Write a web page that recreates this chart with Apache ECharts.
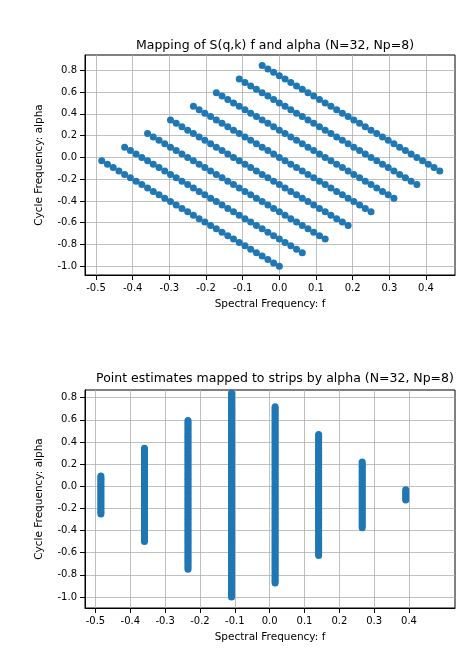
<!DOCTYPE html>
<html><head><meta charset="utf-8">
<script src="https://cdn.jsdelivr.net/npm/echarts@6/dist/echarts.min.js"></script>
<style>html,body{margin:0;padding:0;background:#fff}#c{width:474px;height:656px}</style>
</head><body><div id="c"></div>
<script>
const N = 32, Np = 8;
const qValues = [-16,-15,-14,-13,-12,-11,-10,-9,-8,-7,-6,-5,-4,-3,-2,-1,0,1,2,3,4,5,6,7,8,9,10,11,12,13,14,15];
const kValues = [-4,-3,-2,-1,0,1,2,3];
const stripF = [-0.484375,-0.359375,-0.234375,-0.109375,0.015625,0.140625,0.265625,0.390625];
const stripAlphaMin = [-0.25,-0.5,-0.75,-1.0,-0.875,-0.625,-0.375,-0.125];
const stripAlphaMax = [0.09375,0.34375,0.59375,0.84375,0.71875,0.46875,0.21875,-0.03125];
const xTicks = [-0.5,-0.4,-0.3,-0.2,-0.1,0.0,0.1,0.2,0.3,0.4];
const yTicks = [-1.0,-0.8,-0.6,-0.4,-0.2,0.0,0.2,0.4,0.6,0.8];

const topPts = [];
kValues.forEach(k => qValues.forEach(q => topPts.push([(k/Np - q/N)/2, k/Np + q/N])));
const bottomPts = [];
stripF.forEach((f,i) => { for (let a = stripAlphaMin[i]; a <= stripAlphaMax[i] + 1e-9; a += 1/(2*N)) bottomPts.push([f, a]); });

const FF = 'DejaVu Sans';
const fmt = v => v.toFixed(1);
function xAx(idx, min, max){ return {gridIndex:idx,type:'value',min,max,name:'Spectral Frequency: f',nameLocation:'middle',nameGap:24,
  nameTextStyle:{color:'#000',fontSize:10.5,fontFamily:FF},axisLine:{onZero:false,lineStyle:{color:'#000'}},
  axisTick:{customValues:xTicks,lineStyle:{color:'#000'}},axisLabel:{customValues:xTicks,formatter:fmt,color:'#000',fontSize:10,fontFamily:FF},
  splitLine:{show:true,lineStyle:{color:'#b0b0b0',width:0.8}}};}
function yAx(idx, min, max){ return {gridIndex:idx,type:'value',min,max,name:'Cycle Frequency: alpha',nameLocation:'middle',nameGap:40,
  nameTextStyle:{color:'#000',fontSize:10.5,fontFamily:FF},axisLine:{onZero:false,lineStyle:{color:'#000'}},
  axisTick:{customValues:yTicks,lineStyle:{color:'#000'}},axisLabel:{customValues:yTicks,formatter:fmt,color:'#000',fontSize:10,fontFamily:FF},
  splitLine:{show:true,lineStyle:{color:'#b0b0b0',width:0.8}}};}

const chart = echarts.init(document.getElementById('c'));
chart.setOption({
  animation:false,
  title:[{text:'Mapping of S(q,k) f and alpha (N=32, Np=8)',left:270,top:34,textAlign:'center',textStyle:{fontSize:12.5,fontWeight:'normal',color:'#000',fontFamily:FF}},
         {text:'Point estimates mapped to strips by alpha (N=32, Np=8)',left:270,top:367,textAlign:'center',textStyle:{fontSize:12.5,fontWeight:'normal',color:'#000',fontFamily:FF}}],
  grid:[{left:85,top:55,width:370,height:220,show:true,borderColor:'#000',borderWidth:1},
        {left:85,top:390,width:370,height:218,show:true,borderColor:'#000',borderWidth:1}],
  xAxis:[xAx(0,-0.53,0.479), xAx(1,-0.53,0.532)],
  yAxis:[yAx(0,-1.08,0.94), yAx(1,-1.1,0.87)],
  series:[
    {type:'scatter',xAxisIndex:0,yAxisIndex:0,data:topPts,symbolSize:7,itemStyle:{color:'#1f77b4',opacity:1}},
    {type:'scatter',xAxisIndex:1,yAxisIndex:1,data:bottomPts,symbolSize:7,itemStyle:{color:'#1f77b4',opacity:1}}
  ]
});
</script></body></html>
